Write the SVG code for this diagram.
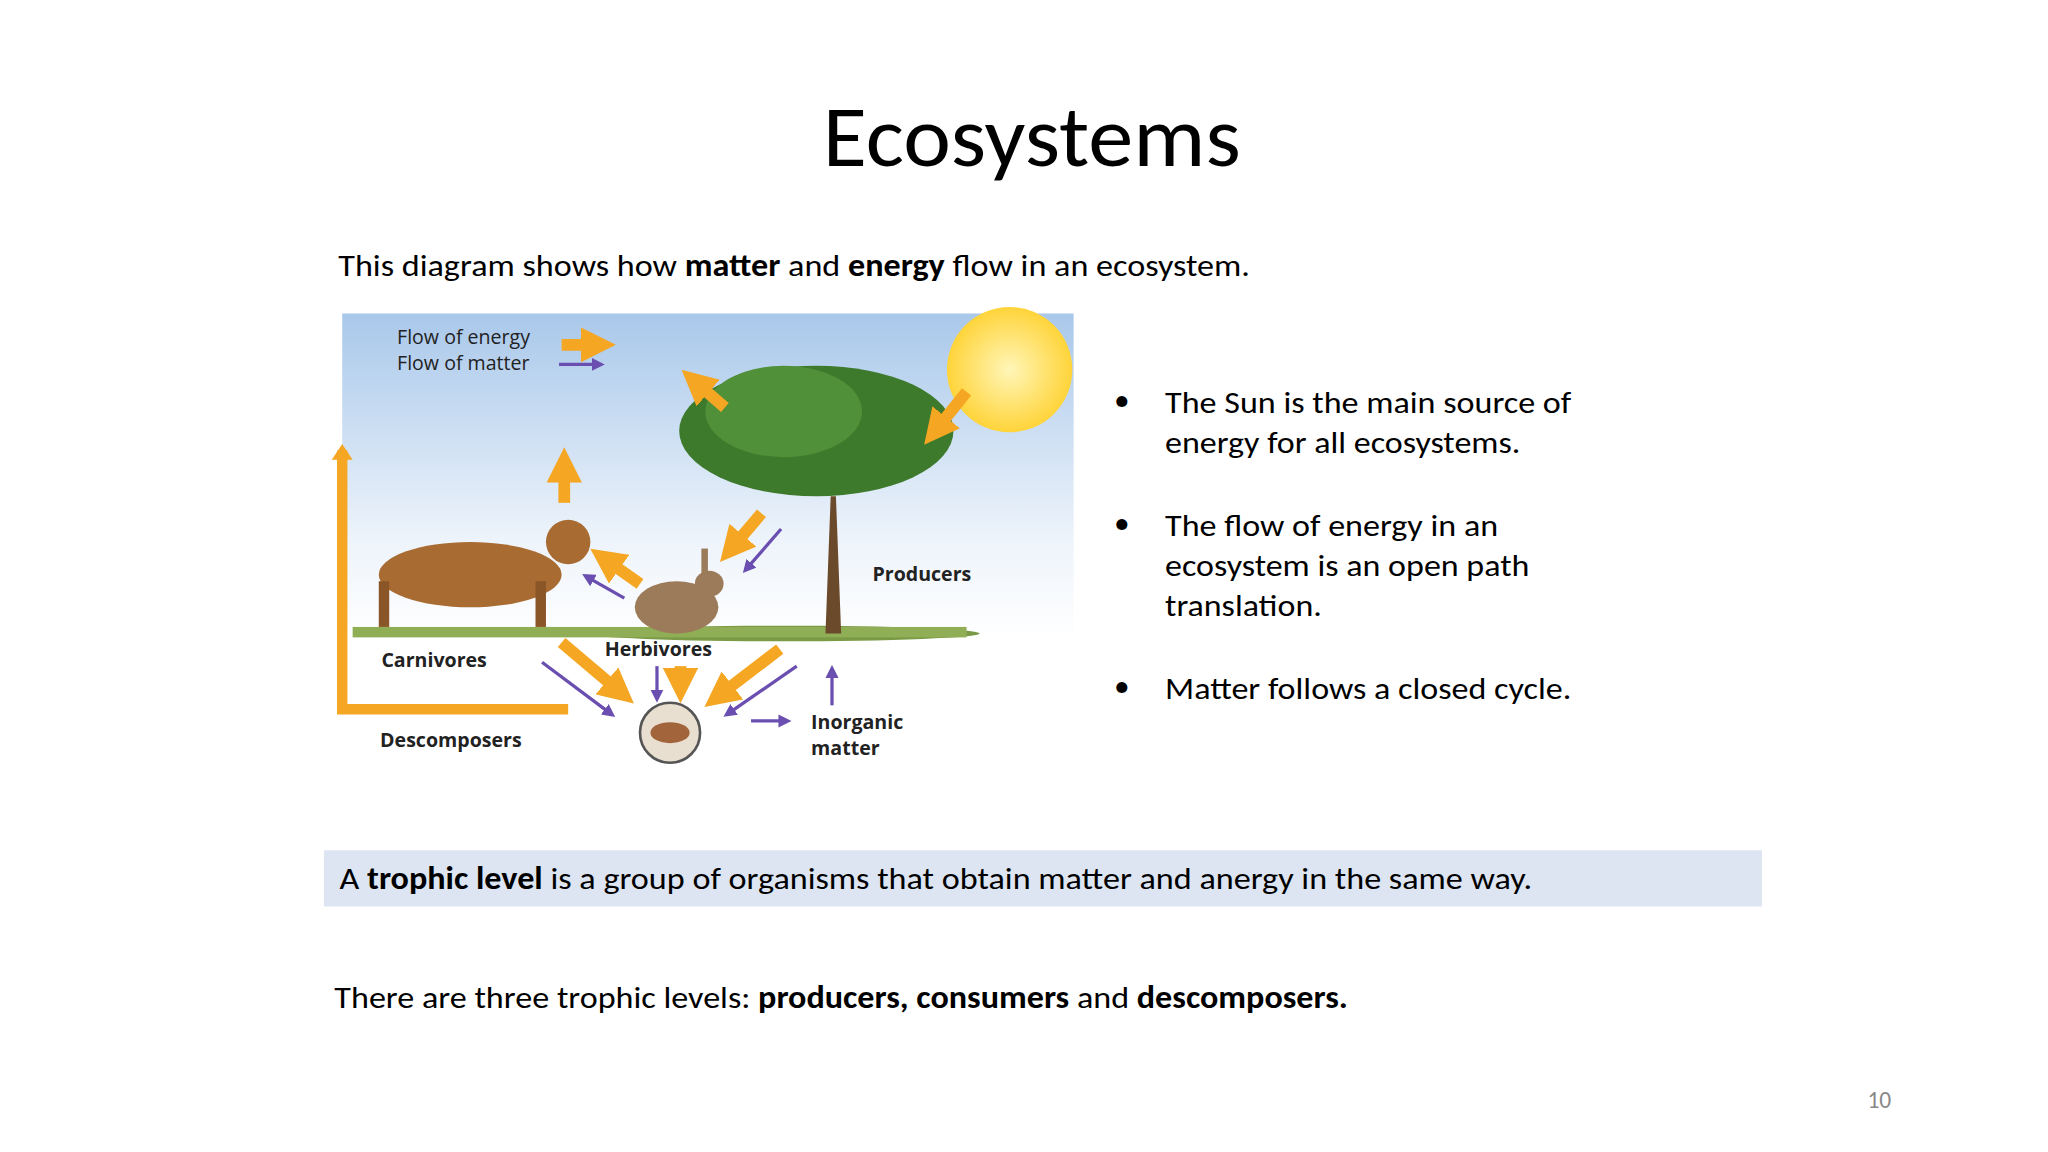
<svg xmlns="http://www.w3.org/2000/svg" width="2048" height="1152" viewBox="0 0 2048 1152">
<defs>
<style>
.t{font-family:Carlito,"Liberation Sans",sans-serif;fill:#000}
.d{font-family:"Open Sans","Liberation Sans",sans-serif;font-size:15px;fill:#222}
.lb{font-family:"Open Sans","Liberation Sans",sans-serif;font-size:15px;font-weight:bold;fill:#222}
.oa{stroke:#f5a623;stroke-width:9;fill:none}
.pa{stroke:#6a4fb0;stroke-width:2.5;fill:none}
</style>
<linearGradient id="sky" x1="0" y1="0" x2="0" y2="1"><stop offset="0" stop-color="#a9c8ea"/><stop offset="0.7" stop-color="#eef4fb"/><stop offset="1" stop-color="#ffffff"/></linearGradient>
<radialGradient id="sun"><stop offset="0" stop-color="#fff6b8"/><stop offset="1" stop-color="#ffd43a"/></radialGradient>
<marker id="mo" viewBox="0 0 10 10" refX="5" refY="5" markerWidth="3" markerHeight="3" orient="auto"><path d="M0,0L10,5L0,10z" fill="#f5a623"/></marker>
<marker id="mp" viewBox="0 0 10 10" refX="5" refY="5" markerWidth="4" markerHeight="4" orient="auto"><path d="M0,0L10,5L0,10z" fill="#6a4fb0"/></marker>
</defs>
<rect width="2048" height="1152" fill="#fff"/>
<g transform="scale(1.30612)">
<text class="t" x="790" y="127" font-size="66" text-anchor="middle" textLength="320" lengthAdjust="spacingAndGlyphs">Ecosystems</text>
<text class="t" x="259" y="211" font-size="24" textLength="698" lengthAdjust="spacingAndGlyphs">This diagram shows how <tspan font-weight="bold">matter</tspan> and <tspan font-weight="bold">energy</tspan> flow in an ecosystem.</text>
<g id="picture">
<rect x="262" y="240" width="560" height="250" fill="url(#sky)"/>
<circle cx="773" cy="283" r="48" fill="url(#sun)"/>
<ellipse cx="600" cy="485" rx="150" ry="6" fill="#7a9a45"/>
<rect x="270" y="480" width="470" height="8" fill="#8fae55"/>
<path d="M632,485 L636,380 L640,380 L644,485z" fill="#6b4a2b"/>
<ellipse cx="625" cy="330" rx="105" ry="50" fill="#3d7a2c"/>
<ellipse cx="600" cy="315" rx="60" ry="35" fill="#4f9038"/>
<ellipse cx="360" cy="440" rx="70" ry="25" fill="#a86b32"/>
<ellipse cx="435" cy="415" rx="17" ry="17" fill="#a86b32"/>
<rect x="290" y="445" width="8" height="35" fill="#8a5628"/><rect x="410" y="445" width="8" height="35" fill="#8a5628"/>
<ellipse cx="518" cy="465" rx="32" ry="20" fill="#9b7b5a"/>
<ellipse cx="543" cy="447" rx="11" ry="10" fill="#9b7b5a"/>
<rect x="537" y="420" width="5" height="22" fill="#9b7b5a"/>
<circle cx="513" cy="561" r="23" fill="#e9dfd0" stroke="#555" stroke-width="2"/>
<ellipse cx="513" cy="561" rx="15" ry="8" fill="#a2643a"/>
<path d="M262,545 V345 M258,543 H435" stroke="#f5a623" stroke-width="8" fill="none"/>
<path d="M254,352 L262,340 L270,352z" fill="#f5a623"/>
<line class="oa" x1="430" y1="264" x2="458" y2="264" marker-end="url(#mo)"/>
<line class="pa" x1="428" y1="279" x2="458" y2="279" marker-end="url(#mp)"/>
<line class="oa" x1="740" y1="300" x2="716" y2="330" marker-end="url(#mo)"/>
<line class="oa" x1="555" y1="312" x2="532" y2="292" marker-end="url(#mo)"/>
<line class="oa" x1="432" y1="385" x2="432" y2="356" marker-end="url(#mo)"/>
<line class="oa" x1="583" y1="393" x2="560" y2="420" marker-end="url(#mo)"/>
<line class="oa" x1="490" y1="447" x2="463" y2="428" marker-end="url(#mo)"/>
<line class="oa" x1="430" y1="492" x2="475" y2="530" marker-end="url(#mo)"/>
<line class="oa" x1="521" y1="510" x2="521" y2="525" marker-end="url(#mo)"/>
<line class="oa" x1="597" y1="497" x2="550" y2="533" marker-end="url(#mo)"/>
<line class="pa" x1="598" y1="405" x2="572" y2="435" marker-end="url(#mp)"/>
<line class="pa" x1="478" y1="458" x2="450" y2="442" marker-end="url(#mp)"/>
<line class="pa" x1="415" y1="507" x2="467" y2="546" marker-end="url(#mp)"/>
<line class="pa" x1="503" y1="510" x2="503" y2="533" marker-end="url(#mp)"/>
<line class="pa" x1="610" y1="510" x2="558" y2="546" marker-end="url(#mp)"/>
<line class="pa" x1="575" y1="552" x2="601" y2="552" marker-end="url(#mp)"/>
<line class="pa" x1="637" y1="540" x2="637" y2="514" marker-end="url(#mp)"/>
<text class="d" x="304" y="263">Flow of energy</text>
<text class="d" x="304" y="283">Flow of matter</text>
<text class="lb" x="668" y="445">Producers</text>
<text class="lb" x="463" y="502">Herbivores</text>
<text class="lb" x="292" y="511">Carnivores</text>
<text class="lb" x="291" y="572">Descomposers</text>
<text class="lb" x="621" y="558">Inorganic</text>
<text class="lb" x="621" y="578">matter</text>
</g>
<g id="bullets" class="t" font-size="24">
<text x="853" y="314">•</text><text x="892" y="316" textLength="311" lengthAdjust="spacingAndGlyphs">The Sun is the main source of</text>
<text x="892" y="347" textLength="272" lengthAdjust="spacingAndGlyphs">energy for all ecosystems.</text>
<text x="853" y="408">•</text><text x="892" y="410" textLength="255" lengthAdjust="spacingAndGlyphs">The flow of energy in an</text>
<text x="892" y="441" textLength="279" lengthAdjust="spacingAndGlyphs">ecosystem is an open path</text>
<text x="892" y="472" textLength="120" lengthAdjust="spacingAndGlyphs">translation.</text>
<text x="853" y="533">•</text><text x="892" y="535" textLength="311" lengthAdjust="spacingAndGlyphs">Matter follows a closed cycle.</text>
</g>
<rect x="248" y="651" width="1101" height="43" fill="#dce5f1"/>
<text class="t" x="260" y="681" font-size="24" textLength="913" lengthAdjust="spacingAndGlyphs">A <tspan font-weight="bold">trophic level</tspan> is a group of organisms that obtain matter and anergy in the same way.</text>
<text class="t" x="256" y="772" font-size="24" textLength="776" lengthAdjust="spacingAndGlyphs">There are three trophic levels: <tspan font-weight="bold">producers, consumers</tspan> and <tspan font-weight="bold">descomposers.</tspan></text>
<text class="t" x="1448" y="848" font-size="18" fill="#888" style="fill:#888" text-anchor="end">10</text>
</g>
</svg>
